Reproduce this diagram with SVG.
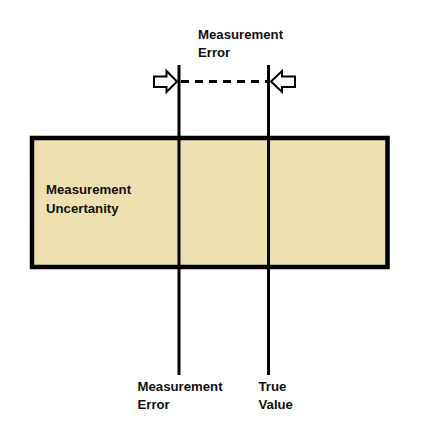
<svg xmlns="http://www.w3.org/2000/svg" width="447" height="447" viewBox="0 0 447 447">
<style>
.t{font-family:"Liberation Sans",Arial,sans-serif;font-weight:bold;font-size:13.2px;fill:#111}
.ln{stroke:#000;stroke-width:3;fill:none}
.arr{fill:#fff;stroke:#000;stroke-width:2;stroke-linejoin:miter}
</style>
<rect width="447" height="447" fill="#fff"/>
<g id="uncertainty">
<rect x="32" y="138" width="355.5" height="129" fill="#EEE1B1" stroke="#000" stroke-width="4.5"/>
<text class="t" x="46" y="194">Measurement</text>
<text class="t" x="46" y="212.5">Uncertanity</text>
</g>
<g id="connectors">
<line class="ln" x1="179" y1="65" x2="179" y2="375"/>
<line class="ln" x1="268.5" y1="65" x2="268.5" y2="375"/>
<line class="ln" x1="181" y1="81.5" x2="267" y2="81.5" stroke-dasharray="8,6"/>
</g>
<g id="arrow-left">
<polygon class="arr" points="154,76.5 166.5,76.5 166.5,71 177,81.5 166.5,92 166.5,87 154,87"/>
</g>
<g id="arrow-right">
<polygon class="arr" points="295,76.5 282,76.5 282,71 271,81.5 282,92 282,87 295,87"/>
</g>
<g id="error-top">
<text class="t" x="198" y="39">Measurement</text>
<text class="t" x="198" y="56.5">Error</text>
</g>
<g id="error-bottom">
<text class="t" x="137.5" y="391">Measurement</text>
<text class="t" x="137.5" y="408.5">Error</text>
</g>
<g id="true-value">
<text class="t" x="258.5" y="391">True</text>
<text class="t" x="258.5" y="408.5">Value</text>
</g>
</svg>
